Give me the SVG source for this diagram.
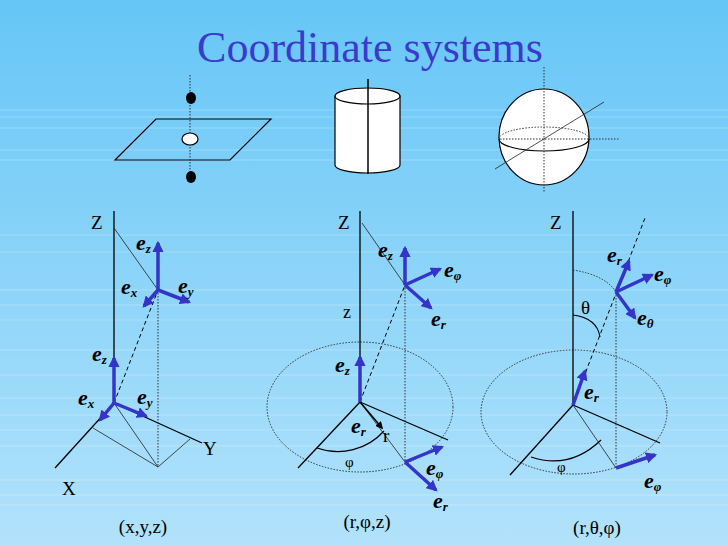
<svg xmlns="http://www.w3.org/2000/svg" width="728" height="546" viewBox="0 0 728 546">
<defs>
<linearGradient id="bg" x1="0" y1="0" x2="0" y2="1"><stop offset="0" stop-color="#66c6f7"/><stop offset="1" stop-color="#b2e2fb"/></linearGradient>
<marker id="ab" viewBox="0 0 10 10" refX="8" refY="5" markerWidth="3.2" markerHeight="3.2" orient="auto"><path d="M0,0L10,5L0,10z" fill="#3434c8"/></marker>
<marker id="ak" viewBox="0 0 10 10" refX="8" refY="5" markerWidth="5" markerHeight="5" orient="auto"><path d="M0,0L10,5L0,10z" fill="#000"/></marker>
</defs>
<style>
.t{font-family:"Liberation Serif","Times New Roman",serif;fill:#000}
.ax{stroke:#000;stroke-width:1.3;fill:none}
.th{stroke:#222;stroke-width:0.8;fill:none}
.dt{stroke:#333;stroke-width:1;stroke-dasharray:1.5 1.5;fill:none}
.ds{stroke:#000;stroke-width:1;stroke-dasharray:4 3;fill:none}
.v{stroke:#3434c8;stroke-width:3.5;marker-end:url(#ab)}
.e{font-family:"Liberation Serif","Times New Roman",serif;font-weight:bold;font-style:italic;font-size:22px;fill:#000}
.s{font-size:13px}
.sh{fill:#fff;stroke:#000;stroke-width:1.2}
</style>
<rect width="728" height="546" fill="url(#bg)"/>
<g stroke="#fff" stroke-opacity="0.25" stroke-width="1">
<path d="M0,110H728M0,117H728M0,128H728M0,150H728M0,160H728M0,235H728M0,252H728M0,290H728M0,305H728M0,320H728M0,350H728M0,375H728M0,398H728M0,415H728M0,430H728M0,446H728M0,480H728M0,495H728M0,505H728"/>
</g>
<text x="370" y="62" text-anchor="middle" class="t" font-size="44" style="fill:#3a3acc">Coordinate systems</text>

<g id="plane">
<path d="M115,160L156,119L271,119L230,160Z" fill="none" stroke="#000" stroke-width="1.2"/>
<line x1="190" y1="75" x2="190" y2="182" class="dt"/>
<ellipse cx="191" cy="98" rx="5" ry="6" fill="#000"/>
<ellipse cx="191" cy="177" rx="5" ry="6" fill="#000"/>
<ellipse cx="190" cy="139" rx="8" ry="6" class="sh"/>
</g>
<g id="cylinder">
<path d="M335,96V165A32.5,8 0 0 0 400,165V96Z" class="sh"/>
<ellipse cx="367.5" cy="96" rx="32.5" ry="8" class="sh"/>
<line x1="368" y1="79" x2="368" y2="174" stroke="#000" stroke-width="1.5"/>
</g>
<g id="sphere">
<ellipse cx="544" cy="137" rx="45" ry="48" class="sh"/>
<path d="M499,139A45,12 0 0 0 589,139" fill="none" stroke="#000" stroke-width="1.2"/>
<path d="M499,139A45,12 0 0 1 589,139" class="dt"/>
<line x1="500" y1="139" x2="620" y2="139" class="dt"/>
<line x1="544" y1="67" x2="544" y2="193" class="dt" stroke="#888"/>
<line x1="495" y1="169" x2="604" y2="102" class="th"/>
</g>

<g id="cartesian">
<line x1="114" y1="211" x2="114" y2="403" class="ax"/>
<line x1="114" y1="403" x2="55" y2="468" class="ax"/>
<line x1="114" y1="403" x2="202" y2="443" class="ax"/>
<line x1="158" y1="290" x2="158" y2="467" class="dt"/>
<path d="M93,428L158,467L190,439M114,403L158,467M114,228L158,290" class="th"/>
<line x1="114" y1="403" x2="158" y2="290" class="ds"/>
<line x1="158" y1="290" x2="158" y2="243" class="v"/>
<line x1="158" y1="290" x2="144" y2="306" class="v"/>
<line x1="158" y1="290" x2="189" y2="302" class="v"/>
<line x1="114" y1="403" x2="114" y2="358" class="v"/>
<line x1="114" y1="403" x2="100" y2="420" class="v"/>
<line x1="114" y1="403" x2="146" y2="416" class="v"/>
<text x="91" y="229" class="t" font-size="19">Z</text>
<text x="62" y="495" class="t" font-size="19">X</text>
<text x="203" y="455" class="t" font-size="19">Y</text>
<text x="136" y="250" class="e">e<tspan class="s" dy="3">z</tspan></text>
<text x="121" y="294" class="e">e<tspan class="s" dy="3">x</tspan></text>
<text x="178" y="293" class="e">e<tspan class="s" dy="3">y</tspan></text>
<text x="92" y="361" class="e">e<tspan class="s" dy="3">z</tspan></text>
<text x="78" y="405" class="e">e<tspan class="s" dy="3">x</tspan></text>
<text x="137" y="404" class="e">e<tspan class="s" dy="3">y</tspan></text>
<text x="143" y="533" class="t" font-size="19" text-anchor="middle">(x,y,z)</text>
</g>

<g id="cylindrical">
<ellipse cx="360" cy="407" rx="93" ry="65" class="dt"/>
<line x1="360" y1="211" x2="360" y2="402" class="ax"/>
<line x1="360" y1="402" x2="298" y2="468" class="ax"/>
<line x1="360" y1="402" x2="448" y2="440" class="ax"/>
<path d="M360,402L405,462M362,223L405,285" class="th"/>
<line x1="405" y1="285" x2="405" y2="462" class="dt"/>
<line x1="360" y1="402" x2="405" y2="285" class="ds"/>
<path d="M317,448A62,62 0 0 0 384,431" fill="none" stroke="#000" stroke-width="1.2"/>
<line x1="360" y1="402" x2="382" y2="428" stroke="#000" stroke-width="1.5" marker-end="url(#ak)"/>
<line x1="360" y1="402" x2="360" y2="357" class="v"/>
<line x1="405" y1="285" x2="405" y2="248" class="v"/>
<line x1="405" y1="285" x2="440" y2="269" class="v"/>
<line x1="405" y1="285" x2="431" y2="308" class="v"/>
<line x1="405" y1="462" x2="442" y2="447" class="v"/>
<line x1="405" y1="462" x2="436" y2="490" class="v"/>
<text x="338" y="229" class="t" font-size="19">Z</text>
<text x="343" y="318" class="t" font-size="18">z</text>
<text x="383" y="442" class="t" font-size="19">r</text>
<text x="345" y="467" class="t" font-size="15">φ</text>
<text x="378" y="257" class="e">e<tspan class="s" dy="3">z</tspan></text>
<text x="444" y="277" class="e">e<tspan class="s" dy="3">φ</tspan></text>
<text x="431" y="326" class="e">e<tspan class="s" dy="3">r</tspan></text>
<text x="335" y="372" class="e">e<tspan class="s" dy="3">z</tspan></text>
<text x="351" y="433" class="e">e<tspan class="s" dy="3">r</tspan></text>
<text x="426" y="475" class="e">e<tspan class="s" dy="3">φ</tspan></text>
<text x="433" y="508" class="e">e<tspan class="s" dy="3">r</tspan></text>
<text x="367" y="528" class="t" font-size="19" text-anchor="middle">(r,φ,z)</text>
</g>

<g id="spherical">
<ellipse cx="574" cy="412" rx="93" ry="62" class="dt"/>
<line x1="573" y1="211" x2="573" y2="405" class="ax"/>
<line x1="573" y1="405" x2="510" y2="475" class="ax"/>
<line x1="573" y1="405" x2="660" y2="443" class="ax"/>
<line x1="573" y1="405" x2="616" y2="468" class="th"/>
<line x1="616" y1="292" x2="616" y2="468" class="dt"/>
<line x1="573" y1="405" x2="645" y2="218" class="ds"/>
<path d="M573,270Q605,275 616,292" class="dt"/>
<path d="M573,315Q597,318 600,337" fill="none" stroke="#000" stroke-width="1.2"/>
<path d="M531,457Q570,470 601,440" fill="none" stroke="#000" stroke-width="1.2"/>
<line x1="573" y1="405" x2="585" y2="371" class="v"/>
<line x1="616" y1="292" x2="629" y2="261" class="v"/>
<line x1="616" y1="292" x2="652" y2="275" class="v"/>
<line x1="616" y1="292" x2="635" y2="318" class="v"/>
<line x1="616" y1="468" x2="655" y2="455" class="v"/>
<text x="550" y="229" class="t" font-size="19">Z</text>
<text x="581" y="314" class="t" font-size="19">θ</text>
<text x="557" y="472" class="t" font-size="15">φ</text>
<text x="607" y="262" class="e">e<tspan class="s" dy="3">r</tspan></text>
<text x="654" y="281" class="e">e<tspan class="s" dy="3">φ</tspan></text>
<text x="637" y="325" class="e">e<tspan class="s" dy="3">θ</tspan></text>
<text x="584" y="399" class="e">e<tspan class="s" dy="3">r</tspan></text>
<text x="644" y="488" class="e">e<tspan class="s" dy="3">φ</tspan></text>
<text x="597" y="534" class="t" font-size="19" text-anchor="middle">(r,θ,φ)</text>
</g>
</svg>
